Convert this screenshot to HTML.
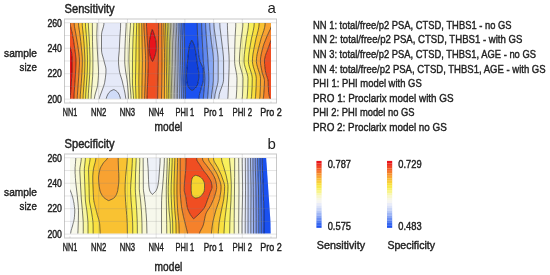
<!DOCTYPE html>
<html><head><meta charset="utf-8"><title>Sensitivity and Specificity</title><style>html,body{margin:0;padding:0;background:#fff;width:550px;height:275px;overflow:hidden}svg{display:block}</style></head><body>
<svg width="550" height="275" viewBox="0 0 550 275">
<rect width="550" height="275" fill="#fff"/>
<clipPath id="ct"><path d="M70 22.9H271V98.8H70Z"/></clipPath>
<g clip-path="url(#ct)">
<path fill="#1242dc" fill-rule="evenodd" d="M191.75 40.01 L192.21 40.5 L192.25 40.77 L192.44 41 L193.61 43.5 L194.25 45.18 L194.75 47.02 L195.5 51.03 L196.75 59.49 L197.6 66 L198.5 70.75 L198.75 72.56 L198.84 75 L198.75 78 L198 83 L197.73 84 L197 85.7 L196.22 87 L195.28 88.25 L194.25 89.13 L192.25 90.47 L191.75 90.45 L189.93 89 L189 88 L188 86.18 L187.5 85.01 L187 83 L186.92 81.25 L186.75 80.5 L186.5 75 L186.75 70.08 L186.92 69.25 L187 67.36 L187.16 66.5 L187.25 64.44 L187.4 63.5 L187.75 58.5 L188.5 51.24 L189 47.61 L189.48 45.25 L190.07 43.5 L191.06 41.25 L191.25 41.01 L191.29 40.75 L191.5 40.51 L191.52 40.25Z"/>
<path fill="#1c52f0" fill-rule="evenodd" d="M184 18 L197.18 18 L197.33 28 L197.6 36.75 L198.25 48.6 L198.75 54.52 L199.25 57.79 L200.14 61.5 L200.81 63.25 L202.25 66.24 L202.75 67.48 L202.86 68 L203 68.23 L203.25 69.5 L203.33 78.75 L203.25 80.79 L202.75 83.05 L201.36 87.5 L200.75 90 L199.84 93 L199.33 95.25 L199.07 98.25 L199 104 L185.41 104 L185.39 94.75 L185.01 82.75 L184.68 66.5 L184.47 36.75 L184.39 34.5 L184.25 33.26 L184.01 24 L184 18Z M191.52 40.25 L191.5 40.51 L191.29 40.75 L191.25 41.01 L191.06 41.25 L190.07 43.5 L189.48 45.25 L189 47.61 L188.5 51.24 L187.75 58.5 L187.4 63.5 L187.25 64.44 L187.16 66.5 L187 67.36 L186.92 69.25 L186.75 70.08 L186.5 75 L186.75 80.5 L186.92 81.25 L187 83 L187.5 85.01 L188 86.18 L189 88 L189.93 89 L191.75 90.45 L192.25 90.47 L194.25 89.13 L195.28 88.25 L196.22 87 L197 85.7 L197.73 84 L198 83 L198.75 78 L198.84 75 L198.75 72.56 L198.5 70.75 L197.6 66 L196.75 59.49 L195.5 51.03 L194.75 47.02 L194.25 45.18 L193.61 43.5 L192.44 41 L192.25 40.77 L192.21 40.5 L191.75 40.01Z"/>
<path fill="#4070f0" fill-rule="evenodd" d="M181.75 18 L184 18 L184.01 24 L184.25 33.26 L184.39 34.5 L184.47 36.75 L184.68 66.5 L185.01 82.75 L185.39 94.75 L185.41 104 L183.4 104 L183.36 93.25 L182.59 65.75 L182.3 41.75 L181.75 27.08 L181.71 18Z M197.25 18 L201.59 18 L201.68 28 L203 55.59 L203.5 63.56 L203.93 67 L204 68.27 L204.17 69 L204.25 70.52 L204.41 71.25 L204.5 73.03 L204.65 74 L204.85 78.5 L204.65 84 L203.58 95 L202.91 104 L199 104 L199.07 98.25 L199.33 95.25 L199.84 93 L200.75 90 L201.36 87.5 L202.75 83.05 L203.25 80.79 L203.33 78.75 L203.25 69.5 L203 68.23 L202.86 68 L202.75 67.48 L202.25 66.24 L200.81 63.25 L200.14 61.5 L199.25 57.79 L198.75 54.52 L198.25 48.6 L197.6 36.75 L197.33 28 L197.18 18Z"/>
<path fill="#6088f0" fill-rule="evenodd" d="M180 18 L181.71 18 L181.75 27.08 L182.3 41.75 L182.59 65.75 L183.36 93.25 L183.4 104 L181.4 104 L181.36 93 L180.68 65.5 L180.38 41 L179.83 26.25 L179.8 18Z M201.75 18 L205.6 18 L205.61 24.75 L205.76 29 L207.88 58.75 L208.61 71.5 L208.79 77 L208.79 80.5 L208.62 84.75 L207.19 104 L202.91 104 L203.58 95 L204.65 84 L204.85 78.5 L204.65 74 L204.5 73.03 L204.41 71.25 L204.25 70.52 L204.17 69 L204 68.27 L203.93 67 L203.5 63.56 L203 55.59 L201.68 28 L201.59 18Z"/>
<path fill="#88a8f4" fill-rule="evenodd" d="M178 18 L179.8 18 L179.83 26.25 L180.38 41 L180.68 65.5 L181.36 93 L181.4 104 L179.41 104 L179.38 93.25 L178.88 66.25 L178.6 42 L178.04 26.75 L178 18Z M205.75 18 L209.7 18 L209.72 24.75 L210 29.35 L211.45 42.25 L213 53.5 L213.4 58 L213.5 64.25 L213.35 80.75 L212.95 85 L211.62 94.75 L210.89 104 L207.19 104 L208.62 84.75 L208.79 80.5 L208.79 77 L208.61 71.5 L207.88 58.75 L205.76 29 L205.61 24.75 L205.6 18Z"/>
<path fill="#b4c6f7" fill-rule="evenodd" d="M176.5 18 L178 18 L178.04 26.75 L178.6 42 L178.88 66.25 L179.38 93.25 L179.41 104 L177.62 104 L177.59 93.5 L177.25 72.75 L176.91 42.25 L176.35 26.75 L176.31 18Z M209.75 18 L213.92 18 L213.94 24.75 L214.25 28.97 L217.58 52.5 L218.13 58.25 L218.21 61 L218.14 80.5 L217.61 84 L215.75 91.08 L215 94.5 L214.5 99.17 L214.21 104 L210.89 104 L211.62 94.75 L212.92 85.25 L213.33 81 L213.5 60.5 L213.33 57 L213 53.5 L211.45 42.25 L209.99 29.25 L209.72 24.75 L209.7 18Z"/>
<path fill="#d0dcf8" fill-rule="evenodd" d="M175 18 L176.31 18 L176.35 26.75 L176.91 42.25 L177.25 72.75 L177.59 93.5 L177.62 104 L176.2 104 L176.17 93.5 L175.67 66.25 L175.4 42 L174.85 27 L174.8 18Z M214 18 L219.81 18 L219.82 24.25 L220 27.77 L222.94 51.5 L223.52 58 L223.6 60.75 L223.6 79 L223.51 80.5 L223.16 82.5 L222.61 84.5 L220.25 90.97 L219.75 92.5 L219.25 94.47 L218.75 98.42 L218.5 101.45 L218.44 104 L214.21 104 L214.5 99.17 L215 94.5 L215.75 91.08 L217.44 84.75 L217.89 82.5 L218.12 80.75 L218.2 79 L218.2 60.75 L218.09 57.5 L217.65 53 L214.25 28.97 L213.94 24.75 L213.92 18Z M113.5 89.71 L113.75 89.63 L114.5 89.88 L116.98 91.5 L117.5 92 L118.25 92.99 L119 94.35 L119.5 95.5 L120.25 97.75 L120.5 100.38 L120.55 104 L105.84 104 L106 100.5 L106.25 98.43 L106.75 96.72 L107.75 94.49 L108.75 92.88 L110 91.5 L111 90.82 L113.28 89.75Z"/>
<path fill="#e5e9f8" fill-rule="evenodd" d="M104.25 18 L120.76 18 L120.5 28.59 L119.84 38 L119.25 50.75 L118.56 58 L118.5 61.25 L118.57 64 L119.09 68.75 L119.6 72 L120.32 74.75 L122.25 80.99 L123.06 84.75 L123.25 85.24 L123.34 86 L123.5 86.36 L123.57 87 L123.75 87.45 L123.86 88.25 L124 88.49 L124.07 89.25 L124.25 89.64 L125 93.27 L125.75 98.24 L126.16 104 L120.55 104 L120.5 100.38 L120.25 97.75 L119.5 95.5 L119 94.35 L118.26 93 L117.25 91.74 L116.5 91.13 L115.25 90.32 L114.22 89.75 L113.75 89.63 L113 89.82 L110.3 91.25 L109.04 92.5 L108.02 94 L106.75 96.72 L106.25 98.43 L106 100.5 L105.84 104 L98.81 104 L99 101 L99.5 97.7 L100.01 96 L103.63 86.25 L104.39 83.75 L104.67 82.5 L105.41 77.75 L105.93 73 L105.98 69.25 L105.67 67 L104.25 62.01 L103.68 59.5 L102 53.77 L101.91 53 L101.75 52.54 L101.5 50 L101.51 34.75 L101.75 32.69 L102 31.5 L103.42 26.75 L103.86 24.5 L104.14 18Z M173.5 18 L174.8 18 L174.85 27 L175.4 42 L175.67 66.25 L176.17 93.5 L176.2 104 L174.7 104 L174.68 93.5 L174.17 66.25 L173.9 42 L173.35 27 L173.3 18Z M220 18 L227.41 18 L227.42 25.25 L227.56 30.5 L228.12 42.25 L229.03 55.25 L229.2 61 L229.08 68.5 L228.4 87.75 L227.97 96.5 L227.39 104 L218.44 104 L218.5 101.45 L218.75 98.42 L219.25 94.47 L220 91.72 L222.1 86 L222.83 83.75 L223.41 81.25 L223.59 79.25 L223.6 60.75 L223.46 57 L222.91 51.25 L220 27.77 L219.82 24.25 L219.81 18Z"/>
<path fill="#f5f5f2" fill-rule="evenodd" d="M97.25 18 L104.14 18 L103.86 24.5 L103.42 26.75 L102 31.5 L101.75 32.69 L101.51 34.75 L101.5 50 L101.75 52.54 L101.91 53 L102 53.77 L102.75 56.52 L103.4 58.5 L104.25 62.01 L105.42 66 L105.9 68.25 L106 69.75 L105.93 73 L105.67 75.75 L104.67 82.5 L104.18 84.5 L103.63 86.25 L100.01 96 L99.5 97.7 L99 101 L98.81 104 L93.83 104 L94.25 99.5 L94.75 96.15 L95.25 94 L97.1 87.75 L97.64 85.25 L98.12 80.5 L98.44 75.5 L98.5 71.75 L98.41 68 L97.34 50 L96.83 37.5 L96.83 33.25 L97.2 24.75 L97.17 18Z M121 18 L126.28 18 L126.08 26.5 L125.36 38.25 L124.89 50.25 L124.69 61.75 L124.87 64.75 L125.59 71 L127 79.68 L127.5 83.97 L128.25 92.93 L128.8 104 L126.16 104 L125.75 98.24 L125 93.27 L124.25 89.64 L124.07 89.25 L124 88.49 L123.86 88.25 L123.75 87.45 L123.57 87 L123.5 86.36 L123.34 86 L123.25 85.24 L123.06 84.75 L122.25 80.99 L120.32 74.75 L119.6 72 L119.09 68.75 L118.61 64.5 L118.5 61.5 L118.56 58 L119.25 50.75 L119.84 38 L120.5 28.59 L120.76 18Z M172 18 L173.3 18 L173.35 27 L173.9 42 L174.17 66.25 L174.68 93.5 L174.7 104 L173.2 104 L173.18 93.5 L172.67 66.25 L172.4 42 L171.85 27 L171.8 18Z M227.5 18 L235.79 18 L235.75 26.28 L235.09 37.5 L234.88 44 L234.65 54.25 L234.6 61.5 L234.72 63.5 L235.08 66.25 L236.25 72.31 L236.75 75.42 L236.98 78.25 L236.99 80.75 L236.75 89.67 L236.3 97 L235.75 100.15 L234.79 104 L227.39 104 L227.97 96.5 L228.4 87.75 L229.08 68.5 L229.2 61 L229.03 55.25 L228.12 42.25 L227.56 30.5 L227.42 25.25 L227.41 18Z"/>
<path fill="#f8f8d2" fill-rule="evenodd" d="M92.5 18 L97.17 18 L97.2 24.75 L96.83 33.25 L96.84 38 L97.33 49.75 L98.36 67 L98.49 70.5 L98.38 76.75 L97.68 85 L97.1 87.75 L95.25 94 L94.75 96.15 L94.25 99.5 L93.83 104 L90.9 104 L91.25 94.09 L92.65 76.25 L92.86 70.25 L92.92 59 L92.5 41.5 L92.31 18Z M126.5 18 L130.58 18 L130.41 25.75 L129.61 37.5 L129.35 43.5 L128.97 54.75 L128.89 61.5 L129.82 82.25 L130.91 95.5 L131.3 104 L128.8 104 L128.25 92.93 L127.5 83.97 L127 79.68 L125.62 71.25 L124.8 63.75 L124.69 60 L124.87 51 L125.36 38.25 L126.08 26.5 L126.28 18Z M170.5 18 L171.8 18 L171.85 27 L172.4 42 L172.67 66.25 L173.18 93.5 L173.2 104 L171.7 104 L171.68 93.5 L171.17 66.25 L170.9 42 L170.35 27 L170.3 18Z M236 18 L242.89 18 L242.88 24 L242.75 26.8 L242.25 31 L241.09 39 L239.84 51.75 L239.42 59 L239.42 61.75 L239.71 64.25 L240.33 67 L242 72.75 L242.49 74.75 L242.77 76.25 L242.99 78.5 L242.87 87 L242.48 96.25 L242 99.5 L240.89 104 L234.79 104 L235.75 100.15 L236.3 97 L236.75 89.67 L236.99 80.75 L236.98 78.25 L236.75 75.42 L236.25 72.31 L235.08 66.25 L234.72 63.5 L234.6 61.5 L234.65 54.25 L234.88 44 L235.09 37.5 L235.75 26.28 L235.79 18Z"/>
<path fill="#f8f7a0" fill-rule="evenodd" d="M88.25 18 L92.31 18 L92.5 41.5 L92.92 59 L92.86 70.25 L92.65 76.25 L91.25 94.09 L90.9 104 L88 104 L88.36 93.75 L89.71 74.25 L90 61.75 L89.93 55.75 L89.59 46.5 L89.11 36.75 L88.41 26 L88.22 18Z M130.75 18 L133.88 18 L133.75 25.33 L133.06 38.25 L132.64 52 L132.51 60.25 L132.41 78.75 L132.5 85.18 L133.42 95.75 L133.8 104 L131.3 104 L130.91 95.5 L129.82 82.25 L128.93 63 L128.92 57.5 L129.14 49 L129.59 38 L130.44 25.25 L130.58 18Z M169 18 L170.3 18 L170.35 27 L170.9 42 L171.17 66.25 L171.68 93.5 L171.7 104 L170.2 104 L170.18 93.5 L169.66 65.5 L169.4 42 L168.84 27 L168.8 18Z M243 18 L248.5 18 L248.49 24.25 L248.28 27.25 L247.82 30.5 L246.4 38.5 L244.91 49.5 L244.33 54.5 L244.03 59 L244.03 62 L244.39 64.5 L245.11 67.25 L247.25 74.02 L247.75 76.26 L247.99 78.5 L247.78 88 L247.26 96.5 L246.75 99.65 L245.7 104 L240.89 104 L242 99.5 L242.48 96.25 L242.87 87 L242.99 78.5 L242.77 76.25 L242.49 74.75 L242 72.75 L240.4 67.25 L239.85 65 L239.55 63.25 L239.41 61.5 L239.56 55.75 L240.12 48.75 L241.15 38.5 L242.25 31 L242.75 26.75 L242.88 24 L242.89 18Z"/>
<path fill="#f8f05c" fill-rule="evenodd" d="M85.5 18 L88.22 18 L88.39 25.5 L89.38 41.75 L89.91 55.25 L89.99 62.75 L89.79 72.5 L88.35 94 L88 104 L85.4 104 L85.75 94.07 L87.23 73.75 L87.5 60.75 L87.39 54.75 L87 45 L86.25 34.35 L85.53 26.25 L85.3 18Z M134 18 L136.77 18 L136.64 25.75 L136.1 44 L135.51 79.25 L135.55 85.5 L136.21 104 L133.8 104 L133.44 96 L132.74 88.25 L132.43 83.5 L132.45 67.5 L132.61 53.25 L133.05 38.5 L133.75 25.33 L133.88 18Z M167.25 18 L168.8 18 L168.84 27 L169.4 42 L169.66 65.5 L170.18 93.5 L170.2 104 L168.69 104 L168.67 93.75 L168.07 66 L167.79 41.75 L167.24 26.75 L167.2 18Z M248.75 18 L254.19 18 L254.19 24 L253.97 26.75 L253.25 30.74 L251.41 38.75 L249.64 49 L248.85 54.25 L248.44 59 L248.41 61.75 L248.78 64.5 L249.41 67 L251 72.04 L251.75 74.75 L252.13 76.75 L252.29 78.5 L252.12 87 L251.55 96.5 L251.03 99.75 L250 104 L245.7 104 L246.75 99.65 L247.26 96.5 L247.78 88 L247.99 78.5 L247.75 76.26 L247.25 74.02 L245.11 67.25 L244.56 65.25 L244.13 63 L244 61.25 L244.17 56.5 L244.81 50.25 L246.4 38.5 L247.86 30.25 L248.3 27 L248.49 24.25 L248.5 18Z"/>
<path fill="#f9e040" fill-rule="evenodd" d="M82.25 18 L85.3 18 L85.46 25.25 L86.75 41.04 L87.25 50.75 L87.5 60.75 L87.28 72.5 L87.01 77.25 L85.74 94.25 L85.4 104 L82.89 104 L83.18 95.25 L84.61 74.25 L84.85 66 L84.9 60 L84.7 54 L84.06 43.5 L83.25 34.47 L82.3 25.75 L82.1 18Z M137 18 L139 18 L139.1 61.75 L138.8 82 L138.99 95.25 L139 104 L136.21 104 L135.55 85.25 L135.54 76.25 L135.94 52.5 L136.77 18Z M165.5 18 L167.2 18 L167.24 26.75 L167.79 41.75 L168.07 66 L168.67 93.75 L168.69 104 L167 104 L166.98 94.75 L166.38 66.25 L166.09 41.75 L165.55 27 L165.5 18Z M254.25 18 L259.11 18 L259.11 23.5 L258.95 26 L258.6 28.25 L257.91 31.25 L256 38.5 L253.5 50.92 L252.84 55 L252.48 58.5 L252.42 61.75 L252.74 64.25 L253.41 67 L255.63 74.25 L256.1 76.5 L256.29 78.5 L256.14 86.75 L255.59 96.25 L255.14 99.25 L254 104 L250 104 L251.03 99.75 L251.55 96.5 L252.12 87 L252.29 78.5 L252.13 76.75 L251.75 74.75 L251 72.04 L249.41 67 L248.89 65 L248.53 63 L248.39 61 L248.63 56.25 L249.39 50.5 L251.41 38.75 L253.25 30.74 L254 26.55 L254.19 24 L254.19 18Z"/>
<path fill="#f9c232" fill-rule="evenodd" d="M78.5 18 L82.1 18 L82.32 26 L83.25 34.47 L84 42.75 L84.7 54 L84.9 61.25 L84.67 72.75 L84.25 80.25 L83.18 95.25 L82.89 104 L80 104 L80.32 94.75 L81.25 83.3 L81.97 72.5 L82.32 65 L82.38 60 L82.26 57 L82.01 54 L80.75 41.55 L80 35 L78.63 25.75 L78.51 23.75 L78.4 18Z M139.25 18 L141.61 18 L142.4 60.5 L141.85 91.25 L141.8 104 L139 104 L138.99 95.25 L138.8 82 L139.1 61.75 L139 18Z M164 18 L165.5 18 L165.55 27 L166.09 41.75 L166.38 66.25 L166.98 94.75 L167 104 L164.39 104 L164.57 58.25 L164.5 52.49 L163.83 27.5 L163.79 18Z M259.25 18 L265.13 18 L265.11 23.5 L264.91 26 L264.38 28.5 L263.63 31 L261.16 38.25 L257.87 50.75 L256.97 55 L256.51 58.5 L256.41 61.5 L256.7 64 L257.38 66.75 L259.75 74.11 L260.25 76.31 L260.49 78.5 L260.39 86.75 L259.98 96.25 L259.5 99.5 L258.39 104 L254 104 L255.14 99.25 L255.59 96.25 L256.14 86.75 L256.29 78.5 L256.1 76.5 L255.63 74.25 L253.48 67.25 L252.84 64.75 L252.5 62.75 L252.4 60.75 L252.68 56.25 L253.5 50.92 L256 38.5 L258.16 30.25 L258.86 26.75 L259.11 24 L259.11 18Z"/>
<path fill="#f8a232" fill-rule="evenodd" d="M74.25 18 L78.4 18 L78.51 23.75 L78.63 25.75 L79.76 33.25 L80.25 37.14 L81 43.92 L82.25 56.91 L82.39 61 L82.25 66.82 L81.75 76.34 L80.3 95 L80 104 L77 104 L77.39 95.25 L78.75 76.1 L79.25 67.75 L79.47 63 L79.48 60 L79.26 56.5 L79.01 54.25 L77.75 45.25 L75.88 34.25 L74.48 26.75 L74.22 24 L74.1 18Z M141.75 18 L143.72 18 L144 28.5 L144.61 38.25 L145.5 55.55 L145.59 61 L145.5 70.02 L145.16 82.75 L144.63 95.5 L144.5 104 L141.8 104 L141.85 91.25 L142.4 60.5 L141.61 18Z M161.75 18 L163.79 18 L163.83 27.5 L164.5 52.49 L164.57 58.25 L164.39 104 L161.39 104 L161.75 85 L162 62.75 L161.68 18Z M265.25 18 L275.01 18 L272.5 23.5 L270.16 29.5 L269.85 30 L267.01 36.25 L264 43.75 L263.25 46.09 L262 50.9 L261.25 54.05 L260.75 56.75 L260.48 59 L260.4 61 L260.5 63.25 L260.78 65.5 L262.24 73 L264 78.07 L264.35 79.5 L264.49 80.75 L264.31 87.25 L263.63 96 L263.15 99.25 L262.43 102.5 L262 104 L258.39 104 L259.5 99.5 L259.98 96.25 L260.39 86.75 L260.49 78.5 L260.25 76.31 L259.75 74.11 L257.61 67.5 L256.86 64.75 L256.46 62.25 L256.42 60 L256.58 57.75 L256.92 55.25 L258.12 49.75 L261.16 38.25 L263.8 30.5 L264.68 27.25 L265.09 24.25 L265.13 18Z"/>
<path fill="#f5812b" fill-rule="evenodd" d="M69.5 18 L74.1 18 L74.22 24 L74.48 26.75 L75.88 34.25 L77.56 44 L78.75 52.3 L79.26 56.5 L79.5 60.5 L79.38 65.25 L78.75 76.1 L77.39 95.25 L77 104 L73.79 104 L74.14 94 L75.45 74.75 L75.75 68.94 L75.98 62.75 L75.94 59 L75.5 54.23 L73.5 39.98 L73.25 38.48 L73.03 37.75 L73 37 L72.79 36.5 L72.75 35.74 L72.55 35.25 L72.5 34.5 L72.33 34.25 L72.25 33.46 L72.06 33 L72 32.25 L71.83 32 L71.75 31.22 L71.55 30.75 L71.5 30 L71.33 29.75 L71.25 28.97 L71.06 28.5 L70.75 26.74 L70.61 26.5 L70.5 25.64 L70.34 25.25 L70.25 24.36 L70.1 24 L70 22.94 L69.81 22.25 L69.75 21.25 L69.59 20.75 L69.5 18.99 L69.33 18Z M143.75 18 L146.4 18 L146.5 26.52 L146.66 28 L146.75 31.07 L148 53.05 L148.23 61.75 L148.18 67.75 L148 71.22 L147.91 76 L147.75 77.95 L147.66 82.75 L147.5 84.68 L147.43 88 L147.25 90.08 L147.16 94.25 L147 97 L146.97 104 L144.5 104 L144.63 95.5 L145.16 82.75 L145.5 70.02 L145.58 59.75 L145.5 55.55 L145.25 50 L143.96 27.75 L143.72 18Z M158.75 18 L161.68 18 L162 62.75 L161.75 85 L161.39 104 L157.55 104 L158.25 65.09 L158.61 29.5 L158.62 18Z M275 18.03 L282 18 L282 29.89 L276 30 L273.75 34.31 L272.19 37.75 L272 38 L270.92 40.75 L270.75 40.99 L270.42 42 L270.25 42.24 L268.94 46 L268.75 46.32 L268.68 46.75 L268.5 47 L268.43 47.5 L268.25 47.74 L268.16 48.25 L268 48.48 L267.69 49.5 L267.5 49.74 L267.2 50.75 L267 51 L266.91 51.5 L266.5 52.36 L266.43 52.75 L266.25 52.99 L266.14 53.5 L265.5 55.17 L265.46 55.5 L265.25 55.97 L265.19 56.5 L265 56.77 L264.94 57.5 L264.75 57.95 L264.67 59 L264.5 59.5 L264.5 63.76 L264.68 64.5 L264.75 66.5 L264.93 67 L265 68.51 L265.19 69 L265.25 70.26 L265.44 70.75 L265.5 72 L265.66 72.25 L265.75 73.1 L265.95 73.5 L266 74.02 L266.17 74.25 L266.5 75.51 L266.69 75.75 L266.75 76.25 L266.95 76.5 L267 76.9 L267.21 77.25 L267.25 77.59 L267.46 78 L267.5 78.5 L267.7 78.75 L267.75 79.32 L267.94 79.75 L268 81 L268.15 81.5 L268.2 82.25 L268.25 86.29 L268.41 88 L268.5 92 L268.68 92.75 L268.75 93.98 L268.89 94.25 L269 95.25 L269.14 95.5 L269.25 96.26 L269.39 96.5 L269.75 98.01 L269.9 98.25 L270.5 100.2 L272 104 L262 104 L262.43 102.5 L263.15 99.25 L263.63 96 L264.31 87.25 L264.49 80.75 L264.39 79.75 L264.12 78.5 L262.25 73.03 L261.5 69.49 L260.61 64.25 L260.43 62.25 L260.41 60.25 L260.68 57.25 L261.25 54.05 L263 47 L264 43.76 L267.01 36.25 L269.85 30 L270.16 29.5 L272.5 23.5 L274.92 18.25Z"/>
<path fill="#f04e22" fill-rule="evenodd" d="M60.25 18 L69.33 18 L69.5 18.99 L69.59 20.75 L69.75 21.25 L69.81 22.25 L70 22.94 L70.1 24 L70.25 24.36 L70.34 25.25 L70.5 25.64 L70.61 26.5 L70.75 26.74 L71.06 28.5 L71.25 28.97 L71.33 29.75 L71.5 30 L71.55 30.75 L71.75 31.22 L71.83 32 L72 32.25 L72.06 33 L72.25 33.46 L72.33 34.25 L72.5 34.5 L72.55 35.25 L72.75 35.74 L72.79 36.5 L73 37 L73.03 37.75 L73.25 38.48 L73.5 39.98 L75.5 54.25 L75.86 57.75 L76 60.75 L75.91 65.25 L75.55 73 L74.14 94 L73.79 104 L69 104 L69.07 103.25 L69.25 102.76 L69.32 102 L69.5 101.5 L69.6 100.5 L69.75 100.08 L69.81 99.25 L70 98.64 L70.08 97.5 L70.25 97 L70.34 95.5 L70.5 95 L70.58 93 L70.75 92.25 L70.82 89.75 L71 88.75 L71.05 86.25 L71.25 84.76 L71.32 82 L71.5 81.01 L71.58 78.25 L71.75 77.25 L71.82 73.75 L72 72 L72.09 60.75 L72 56.44 L71.85 55.75 L71.75 53.62 L71.57 53 L71.5 52 L71.36 51.75 L71 49.97 L70.25 47.72 L70.1 47.5 L70 47 L69.25 45.73 L68.51 44.75 L64.58 40.5 L62 38 L60 37.9 L60 18Z M146.5 18 L158.62 18 L158.61 29.5 L158.25 65.09 L157.55 104 L146.97 104 L147 97 L147.16 94.25 L147.25 90.08 L147.43 88 L147.5 84.68 L147.66 82.75 L147.75 77.95 L147.93 75.5 L148 71.22 L148.18 68 L148.23 61.75 L148 53 L146.75 31.07 L146.66 28 L146.5 26.52 L146.4 18Z M152.04 29.75 L152 30.27 L151.83 30.5 L151.75 31.01 L151.6 31.25 L150.83 34 L149.75 39.22 L149.5 41 L149.4 43 L149.25 44.15 L149.2 48.75 L149.25 50.57 L149.41 51.25 L149.5 52.57 L149.67 53.25 L149.75 54.27 L150.25 56.29 L151.09 58.75 L152.11 61 L152.5 61.5 L152.74 61.25 L153.92 58.75 L155.25 55 L156.25 50.03 L156.32 47 L156.25 44 L156 41.18 L155.75 39.75 L153.85 33.25 L152.94 30.75 L152.75 30.51 L152.64 30 L152.25 29.51Z M276.25 29.99 L282 29.89 L282 104 L272 104 L270.5 100.2 L269.9 98.25 L269.75 98.01 L269.39 96.5 L269.25 96.26 L269.14 95.5 L269 95.25 L268.89 94.25 L268.75 94 L268.68 92.75 L268.5 92 L268.41 88 L268.25 86.29 L268.2 82.25 L268.15 81.5 L268 81 L267.94 79.75 L267.75 79.32 L267.7 78.75 L267.5 78.5 L267.46 78 L267.25 77.59 L267.21 77.25 L267 76.9 L266.95 76.5 L266.75 76.25 L266.69 75.75 L266.5 75.51 L266.17 74.25 L266 74.02 L265.95 73.5 L265.75 73.1 L265.66 72.25 L265.5 72 L265.44 70.75 L265.25 70.26 L265.19 69 L265 68.51 L264.93 67 L264.75 66.5 L264.68 64.5 L264.5 63.76 L264.5 59.46 L264.67 59 L264.75 57.95 L264.94 57.5 L265 56.77 L265.19 56.5 L265.25 55.97 L265.39 55.75 L265.75 54.43 L266.75 51.72 L266.91 51.5 L267 51 L267.2 50.75 L267.5 49.74 L267.69 49.5 L268 48.48 L268.16 48.25 L268.25 47.74 L268.43 47.5 L268.5 47 L268.68 46.75 L268.75 46.32 L268.94 46 L269.5 44.23 L269.66 44 L269.75 43.53 L269.94 43.25 L270.25 42.24 L270.42 42 L271.25 39.75 L271.44 39.5 L272 38 L272.19 37.75 L273.5 34.82 L276 30Z"/>
<path fill="#e8141c" fill-rule="evenodd" d="M152.25 29.51 L152.64 30 L152.75 30.51 L152.94 30.75 L153.85 33.25 L155.75 39.75 L156 41.18 L156.25 44 L156.32 47 L156.25 50.03 L155.25 55 L153.92 58.75 L152.74 61.25 L152.5 61.5 L152.11 61 L151.09 58.75 L150.25 56.29 L149.75 54.27 L149.67 53.25 L149.5 52.57 L149.41 51.25 L149.25 50.57 L149.2 48.75 L149.25 44.15 L149.4 43 L149.5 41 L149.75 39.22 L150.83 34 L151.6 31.25 L151.75 31.01 L151.83 30.5 L152 30.27 L152.04 29.75Z M60.25 37.91 L62 38 L62.25 38.22 L64.75 40.67 L68.5 44.74 L69.75 46.5 L70.75 49.17 L70.87 49.75 L71 49.97 L71.06 50.5 L71.25 50.93 L71.36 51.75 L71.5 52 L71.57 53 L71.75 53.62 L71.85 55.75 L72 56.44 L72.09 61.5 L72 72 L71.82 73.75 L71.75 77.26 L71.56 78.5 L71.5 81.01 L71.31 82.25 L71.25 84.76 L71.06 86 L71 88.75 L70.81 90 L70.75 92.25 L70.58 93 L70.5 95 L70.34 95.5 L70.25 97.01 L70.08 97.5 L70 98.64 L69.81 99.25 L69.75 100.08 L69.6 100.5 L69.5 101.5 L69.32 102 L69.25 102.76 L69.07 103.25 L69 104 L60 104 L60 37.9Z"/>
<g fill="none" stroke="#000" stroke-opacity="0.55" stroke-width="0.95">
<path d="M191.75 40.01 L191.52 40.25 L191.5 40.51 L191.29 40.75 L191.25 41.01 L190.59 42.25 L189.63 44.75 L189.25 46.25 L188.75 49.23 L187.75 58.5 L187.4 63.5 L187.25 64.44 L187.16 66.5 L187 67.36 L186.92 69.25 L186.75 70.08 L186.68 72.5 L186.51 74.75 L186.75 80.5 L186.92 81.25 L187 83 L187.17 83.5 L187.25 84.25 L188.25 86.68 L189 88 L189.66 88.75 L191.75 90.45 L192.25 90.47 L194.25 89.13 L195.5 88 L196.97 85.75 L197.75 83.94 L198.25 81.59 L198.75 78 L198.84 75 L198.75 72.56 L198.5 70.75 L197.6 66 L196.5 57.72 L195.25 49.5 L194.5 46 L194.01 44.5 L192.93 42 L192.25 40.77 L192.21 40.5 L191.99 40.25Z"/>
<path d="M184 18 L184.01 24 L184.25 33.26 L184.39 34.5 L184.47 36.75 L184.68 66.5 L185.01 82.75 L185.39 94.75 L185.41 104 M199 104 L199.07 98.25 L199.33 95.25 L199.84 93 L200.75 90 L201.36 87.5 L202.75 83.05 L203.25 80.79 L203.33 78.75 L203.25 69.5 L203 68.23 L202.86 68 L202.75 67.48 L202.25 66.24 L200.81 63.25 L200.14 61.5 L199.25 57.79 L198.75 54.52 L198.25 48.6 L197.6 36.75 L197.33 28 L197.18 18"/>
<path d="M181.71 18 L181.75 27.08 L182.3 41.75 L182.59 65.75 L183.36 93.25 L183.4 104 M202.91 104 L203.58 95 L204.65 84 L204.85 78.5 L204.65 74 L204.5 73.03 L204.41 71.25 L204.25 70.52 L204.17 69 L204 68.27 L203.93 67 L203.5 63.56 L203 55.59 L201.68 28 L201.59 18"/>
<path d="M179.8 18 L179.83 26.25 L180.38 41 L180.68 65.5 L181.36 93 L181.4 104 M207.19 104 L208.62 84.75 L208.79 80.5 L208.79 77 L208.61 71.5 L207.88 58.75 L205.76 29 L205.61 24.75 L205.6 18"/>
<path d="M178 18 L178.04 26.75 L178.6 42 L178.88 66.25 L179.38 93.25 L179.41 104 M210.89 104 L211.62 94.75 L212.92 85.25 L213.33 81 L213.5 60.5 L213.33 57 L213 53.5 L211.45 42.25 L209.99 29.25 L209.72 24.75 L209.7 18"/>
<path d="M176.31 18 L176.35 26.75 L176.91 42.25 L177.25 72.75 L177.59 93.5 L177.62 104 M214.21 104 L214.5 99.17 L215 94.5 L215.75 91.08 L217.44 84.75 L217.89 82.5 L218.12 80.75 L218.2 79 L218.2 60.75 L218.09 57.5 L217.65 53 L214.25 28.97 L213.94 24.75 L213.92 18"/>
<path d="M174.8 18 L174.85 27 L175.4 42 L175.67 66.25 L176.17 93.5 L176.2 104 M120.55 104 L120.5 100.38 L120.25 97.75 L119.5 95.5 L119 94.35 L118.26 93 L117.25 91.74 L116.5 91.13 L115.25 90.32 L114.22 89.75 L113.75 89.63 L113 89.82 L110.3 91.25 L109.04 92.5 L108.02 94 L106.75 96.72 L106.25 98.43 L106 100.5 L105.84 104 M218.44 104 L218.5 101.45 L218.75 98.42 L219.25 94.47 L220 91.72 L222.1 86 L222.83 83.75 L223.41 81.25 L223.59 79.25 L223.6 60.75 L223.46 57 L222.91 51.25 L220 27.77 L219.82 24.25 L219.81 18"/>
<path d="M104.14 18 L103.86 24.5 L103.42 26.75 L102 31.5 L101.75 32.69 L101.51 34.75 L101.5 50 L101.75 52.54 L101.91 53 L102 53.77 L103.68 59.5 L104.25 62.01 L105.67 67 L105.98 69.25 L105.93 73 L105.41 77.75 L104.67 82.5 L104.39 83.75 L103.63 86.25 L100.01 96 L99.5 97.7 L99 101 L98.81 104 M173.3 18 L173.35 27 L173.9 42 L174.17 66.25 L174.68 93.5 L174.7 104 M126.16 104 L125.75 98.24 L125 93.27 L124.25 89.64 L124.07 89.25 L124 88.49 L123.86 88.25 L123.75 87.45 L123.57 87 L123.5 86.36 L123.34 86 L123.25 85.24 L123.06 84.75 L122.25 80.99 L120.32 74.75 L119.6 72 L119.09 68.75 L118.57 64 L118.5 61.25 L118.56 58 L119.25 50.75 L119.84 38 L120.5 28.59 L120.76 18 M227.39 104 L227.97 96.5 L228.4 87.75 L229.08 68.5 L229.2 61 L229.03 55.25 L228.12 42.25 L227.56 30.5 L227.42 25.25 L227.41 18"/>
<path d="M97.17 18 L97.2 24.75 L96.83 33.25 L96.83 37.5 L97.34 50 L98.41 68 L98.5 71.75 L98.44 75.5 L98.12 80.5 L97.64 85.25 L97.1 87.75 L95.25 94 L94.75 96.15 L94.25 99.5 L93.83 104 M171.8 18 L171.85 27 L172.4 42 L172.67 66.25 L173.18 93.5 L173.2 104 M128.8 104 L128.25 92.93 L127.5 83.97 L127 79.68 L125.59 71 L124.87 64.75 L124.69 61.75 L124.89 50.25 L125.36 38.25 L126.08 26.5 L126.28 18 M234.79 104 L235.75 100.15 L236.3 97 L236.75 89.67 L236.99 80.75 L236.98 78.25 L236.75 75.42 L236.25 72.31 L235.08 66.25 L234.72 63.5 L234.6 61.5 L234.65 54.25 L234.88 44 L235.09 37.5 L235.75 26.28 L235.79 18"/>
<path d="M92.31 18 L92.5 41.5 L92.92 59 L92.86 70.25 L92.65 76.25 L91.25 94.09 L90.9 104 M170.3 18 L170.35 27 L170.9 42 L171.17 66.25 L171.68 93.5 L171.7 104 M131.3 104 L130.91 95.5 L129.82 82.25 L128.89 61.5 L128.97 54.75 L129.35 43.5 L129.61 37.5 L130.41 25.75 L130.58 18 M240.89 104 L242 99.5 L242.48 96.25 L242.87 87 L242.99 78.5 L242.77 76.25 L242.49 74.75 L242 72.75 L240.33 67 L239.71 64.25 L239.42 61.75 L239.42 59 L239.84 51.75 L241.09 39 L242.25 31 L242.75 26.8 L242.88 24 L242.89 18"/>
<path d="M88.22 18 L88.41 26 L89.11 36.75 L89.59 46.5 L89.93 55.75 L90 61.75 L89.71 74.25 L88.36 93.75 L88 104 M168.8 18 L168.84 27 L169.4 42 L169.66 65.5 L170.18 93.5 L170.2 104 M133.8 104 L133.42 95.75 L132.5 85.18 L132.41 78.75 L132.51 60.25 L132.64 52 L133.06 38.25 L133.75 25.33 L133.88 18 M245.7 104 L246.75 99.65 L247.26 96.5 L247.78 88 L247.99 78.5 L247.75 76.26 L247.25 74.02 L245.11 67.25 L244.39 64.5 L244.03 62 L244.03 59 L244.33 54.5 L244.91 49.5 L246.4 38.5 L247.82 30.5 L248.28 27.25 L248.49 24.25 L248.5 18"/>
<path d="M85.3 18 L85.53 26.25 L86.25 34.35 L87 45 L87.39 54.75 L87.5 60.75 L87.23 73.75 L85.75 94.07 L85.4 104 M167.2 18 L167.24 26.75 L167.79 41.75 L168.07 66 L168.67 93.75 L168.69 104 M136.21 104 L135.55 85.5 L135.51 79.25 L136.1 44 L136.64 25.75 L136.77 18 M250 104 L251.03 99.75 L251.55 96.5 L252.12 87 L252.29 78.5 L252.13 76.75 L251.75 74.75 L251 72.04 L249.41 67 L248.78 64.5 L248.41 61.75 L248.44 59 L248.85 54.25 L249.64 49 L251.41 38.75 L253.25 30.74 L253.97 26.75 L254.19 24 L254.19 18"/>
<path d="M82.1 18 L82.3 25.75 L83.25 34.47 L84.06 43.5 L84.7 54 L84.9 60 L84.85 66 L84.61 74.25 L83.18 95.25 L82.89 104 M165.5 18 L165.55 27 L166.09 41.75 L166.38 66.25 L166.98 94.75 L167 104 M139 104 L138.99 95.25 L138.8 82 L139.1 61.75 L139 18 M254 104 L255.14 99.25 L255.59 96.25 L256.14 86.75 L256.29 78.5 L256.1 76.5 L255.63 74.25 L253.41 67 L252.74 64.25 L252.42 61.75 L252.47 58.75 L252.9 54.5 L253.75 49.63 L256 38.5 L258.1 30.5 L258.82 27 L259.11 24 L259.11 18"/>
<path d="M78.4 18 L78.51 23.75 L78.63 25.75 L80 35 L80.75 41.55 L82.01 54 L82.26 57 L82.38 60 L82.32 65 L81.97 72.5 L81.25 83.3 L80.32 94.75 L80 104 M163.79 18 L163.83 27.5 L164.5 52.49 L164.57 58.25 L164.39 104 M141.8 104 L141.85 91.25 L142.4 60.5 L141.61 18 M258.39 104 L259.5 99.5 L259.98 96.25 L260.39 86.75 L260.49 78.5 L260.25 76.31 L259.75 74.11 L257.61 67.5 L256.8 64.5 L256.42 61.75 L256.49 58.75 L256.73 56.5 L257.1 54.25 L258.38 48.75 L261.16 38.25 L263.8 30.5 L264.68 27.25 L265.09 24.25 L265.13 18"/>
<path d="M74.1 18 L74.22 24 L74.48 26.75 L75.88 34.25 L77.75 45.25 L79.01 54.25 L79.26 56.5 L79.48 60 L79.47 63 L79.25 67.75 L78.75 76.1 L77.39 95.25 L77 104 M161.68 18 L162 62.75 L161.75 85 L161.39 104 M144.5 104 L144.63 95.5 L145.16 82.75 L145.5 70.02 L145.58 59.75 L145.5 55.55 L145.25 50 L143.96 27.75 L143.72 18 M262 104 L262.43 102.5 L263.15 99.25 L263.63 96 L264.31 87.25 L264.49 80.75 L264.35 79.5 L264 78.07 L262.24 73 L260.78 65.5 L260.5 63.25 L260.4 61 L260.48 59 L260.75 56.75 L261.25 54.05 L262 50.9 L263.25 46.09 L264 43.75 L267.01 36.25 L269.85 30 L270.16 29.5 L272.5 23.5 L275.01 18"/>
<path d="M69.33 18 L69.5 18.99 L69.59 20.75 L69.75 21.25 L69.81 22.25 L70 22.94 L70.1 24 L70.25 24.36 L70.34 25.25 L70.5 25.64 L70.61 26.5 L70.75 26.74 L71.06 28.5 L71.25 28.97 L71.33 29.75 L71.5 30 L71.55 30.75 L71.75 31.22 L71.83 32 L72 32.25 L72.06 33 L72.25 33.46 L72.33 34.25 L72.5 34.5 L72.55 35.25 L72.75 35.74 L72.79 36.5 L73 37 L73.03 37.75 L73.25 38.48 L73.5 39.98 L75.5 54.23 L75.94 59 L75.98 62.75 L75.75 68.94 L75.45 74.75 L74.14 94 L73.79 104 M158.62 18 L158.61 29.5 L158.25 65.09 L157.55 104 M146.97 104 L147 97 L147.16 94.25 L147.25 90.08 L147.43 88 L147.5 84.68 L147.66 82.75 L147.75 77.95 L147.93 75.5 L148 71.22 L148.18 68 L148.23 61.75 L148 53 L146.75 31.07 L146.66 28 L146.5 26.52 L146.4 18 M272 104 L270.5 100.2 L269.9 98.25 L269.75 98.01 L269.39 96.5 L269.25 96.26 L269.14 95.5 L269 95.25 L268.89 94.25 L268.75 93.98 L268.68 92.75 L268.5 92 L268.41 88 L268.25 86.29 L268.2 82.25 L268.15 81.5 L268 81 L267.94 79.75 L267.75 79.32 L267.7 78.75 L267.5 78.5 L267.46 78 L267.25 77.59 L267.21 77.25 L267 76.9 L266.95 76.5 L266.75 76.25 L266.69 75.75 L266.5 75.51 L266.17 74.25 L266 74.02 L265.95 73.5 L265.75 73.1 L265.66 72.25 L265.5 72 L265.44 70.75 L265.25 70.26 L265.19 69 L265 68.51 L264.93 67 L264.75 66.5 L264.68 64.5 L264.5 63.76 L264.5 59.46 L264.67 59 L264.75 57.95 L264.94 57.5 L265 56.77 L265.19 56.5 L265.25 55.97 L265.46 55.5 L265.5 55.17 L266.14 53.5 L266.25 52.99 L266.43 52.75 L266.5 52.36 L266.91 51.5 L267 51 L267.2 50.75 L267.5 49.74 L267.69 49.5 L268 48.48 L268.16 48.25 L268.25 47.74 L268.43 47.5 L268.5 47 L268.68 46.75 L268.75 46.32 L268.94 46 L270.25 42.24 L270.42 42 L270.75 40.99 L270.92 40.75 L272 38 L272.19 37.75 L273.75 34.31 L276 30 L282 29.89"/>
<path d="M60 37.9 L62 38 L65.5 41.47 L68.5 44.74 L69.25 45.73 L70 47 L70.1 47.5 L70.75 49.17 L70.87 49.75 L71 49.97 L71.06 50.5 L71.25 50.93 L71.36 51.75 L71.5 51.99 L71.57 53 L71.75 53.62 L71.82 55.5 L72 56.44 L72.09 61 L72 72 L71.82 73.75 L71.75 77.26 L71.58 78.25 L71.5 81.01 L71.32 82 L71.25 84.76 L71.05 86.25 L71 88.75 L70.82 89.75 L70.75 92.25 L70.58 93 L70.5 95 L70.34 95.5 L70.25 97 L70.08 97.5 L70 98.64 L69.81 99.25 L69.75 100.08 L69.6 100.5 L69.5 101.5 L69.32 102 L69.25 102.76 L69.07 103.25 L69 104 M152.25 29.51 L152.64 30 L152.75 30.51 L152.94 30.75 L153.85 33.25 L155.75 39.75 L156 41.18 L156.25 44 L156.32 47 L156.25 50.03 L155.25 55 L153.92 58.75 L152.74 61.25 L152.5 61.5 L152.11 61 L151.09 58.75 L150.25 56.29 L149.75 54.27 L149.67 53.25 L149.5 52.57 L149.41 51.25 L149.25 50.57 L149.2 48.75 L149.25 44.15 L149.4 43 L149.5 41 L149.75 39.22 L150.83 34 L151.6 31.25 L151.75 31.01 L151.83 30.5 L152 30.27 L152.04 29.75Z"/>
</g></g>
<clipPath id="cb"><path d="M70 157.9H266.2L270.5 222L270.7 233.6H70Z"/></clipPath>
<g clip-path="url(#cb)">
<path fill="#1a50f0" fill-rule="evenodd" d="M262.25 153 L282 153 L282 239 L264 239 L263.95 211 L263.89 209.5 L263.75 208.55 L263.69 201.5 L263.5 200.02 L263.44 193.25 L263.25 191.75 L263.2 185.25 L263.14 184.5 L263 184.01 L262.95 179.25 L262.89 178.5 L262.75 178.01 L262.7 173.25 L262.5 172.01 L262.44 165.75 L262.25 163.78 L262.25 153Z"/>
<path fill="#3a68f0" fill-rule="evenodd" d="M260 153 L262.25 153 L262.25 163.78 L262.44 165.75 L262.5 172.01 L262.7 173.25 L262.75 178.01 L262.89 178.5 L262.95 179.25 L263 184.01 L263.14 184.5 L263.2 185.25 L263.25 191.75 L263.44 193.25 L263.5 200.02 L263.69 201.5 L263.75 208.55 L263.89 209.5 L263.95 211 L264 239 L261.3 239 L261.28 217.5 L261 196 L260.76 184.75 L259.98 165 L259.9 153Z"/>
<path fill="#5080f0" fill-rule="evenodd" d="M257.75 153 L259.9 153 L259.98 165 L260.76 184.75 L261 196 L261.28 217.5 L261.3 239 L258.8 239 L258.76 214.5 L258.5 190 L257.68 165.25 L257.6 153Z"/>
<path fill="#7090f0" fill-rule="evenodd" d="M255.25 153 L257.6 153 L257.68 165.25 L258.5 190 L258.76 214.5 L258.8 239 L256.2 239 L256.18 218.5 L256.02 200 L255.83 186 L255.25 164.75 L255.2 153Z"/>
<path fill="#90a8f0" fill-rule="evenodd" d="M253 153 L255.2 153 L255.25 164.75 L255.83 186 L256.02 200 L256.18 218.5 L256.2 239 L253.5 239 L253.41 203 L253.28 187.5 L252.93 165 L252.9 153Z"/>
<path fill="#a8bcf4" fill-rule="evenodd" d="M250.5 153 L252.9 153 L252.93 165 L253.28 187.5 L253.41 203 L253.5 239 L250.8 239 L250.81 220 L251 189 L250.55 165 L250.5 153Z"/>
<path fill="#c0d0f8" fill-rule="evenodd" d="M248 153 L250.5 153 L250.55 165 L251 189 L250.81 220 L250.8 239 L248 239 L248.11 189 L247.9 153Z"/>
<path fill="#d8e0f8" fill-rule="evenodd" d="M245.5 153 L247.9 153 L248.11 189 L248 239 L245.19 239 L245.21 220.5 L245.5 190.75 L245.29 153Z"/>
<path fill="#eef1f8" fill-rule="evenodd" d="M147.5 153 L160.14 153 L160.14 158.5 L160 163.3 L158.75 179.54 L158 185.13 L157.25 188.06 L156.23 190.5 L155.7 191.25 L154.75 192.25 L153.25 193.65 L152.25 194.36 L152.01 194.25 L151.57 193.75 L150.37 192 L149.84 191 L149.5 190 L149 187.16 L148.75 184.73 L148.5 179.59 L148.17 168.5 L147.75 163.53 L147.52 158.75 L147.5 153Z M242.25 153 L245.29 153 L245.5 190.75 L245.21 220.5 L245.19 239 L242 239 L242.03 220 L242.5 199.06 L242.59 190.75 L242.52 181 L242.22 163.5 L242.19 153Z M60 180 L60.25 180.06 L62.5 181.59 L64.25 182.92 L65.5 184 L67.73 186.5 L69 188.26 L70.25 190.54 L71 192.24 L71.32 193.25 L71.5 193.52 L71.58 194 L71.75 194.24 L71.84 194.75 L72 194.99 L72.07 195.5 L72.25 195.84 L72.57 197.25 L72.75 197.66 L72.83 198.25 L73 198.59 L73.07 199.25 L73.25 199.64 L73.3 200.25 L73.5 200.73 L73.56 201.5 L73.75 201.97 L73.84 203 L74 203.43 L74.05 204.5 L74.25 205.2 L74.33 206.5 L74.5 206.99 L74.58 208.75 L74.75 209.5 L74.75 213.07 L74.58 214.25 L74.5 216.78 L74.33 217.5 L74.25 219.04 L74.08 219.5 L74 220.31 L73.81 220.75 L73.75 221.36 L73.57 221.75 L73.5 222.3 L73.3 222.75 L73.25 223.26 L73.1 223.5 L73 224.17 L72.83 224.5 L72.5 226.03 L71.83 228 L71.75 228.5 L71.6 228.75 L71.07 230.75 L70.35 235.25 L70.02 239 L60 239 L60 180Z"/>
<path fill="#f7f8ec" fill-rule="evenodd" d="M60.25 153 L75.76 153 L75.75 159.86 L75.57 161.25 L75.5 163.32 L75.32 164.25 L75.25 166.31 L75.07 167.5 L75.08 173.5 L75.25 174.74 L75.32 177.5 L75.5 178.65 L75.59 180.75 L75.83 183.25 L77.25 195.54 L78 203.35 L78.34 207.5 L78.49 210.75 L78.34 220.75 L78 230.37 L77.55 239 L70.02 239 L70.35 235.25 L71.07 230.75 L71.6 228.75 L71.75 228.5 L71.83 228 L72.5 226.03 L72.83 224.5 L73 224.17 L73.1 223.5 L73.25 223.26 L73.3 222.75 L73.5 222.3 L73.57 221.75 L73.75 221.36 L73.81 220.75 L74 220.31 L74.08 219.5 L74.25 219.04 L74.33 217.5 L74.5 216.78 L74.58 214.25 L74.75 213.07 L74.75 209.5 L74.58 208.75 L74.5 206.99 L74.33 206.5 L74.25 205.2 L74.09 204.75 L74 203.43 L73.84 203 L73.75 201.97 L73.56 201.5 L73.5 200.73 L73.3 200.25 L73 198.59 L72.83 198.25 L72.5 196.72 L72.07 195.5 L72 194.99 L71.84 194.75 L71.75 194.24 L71.58 194 L71.5 193.52 L71.32 193.25 L71 192.24 L70 190 L68.48 187.5 L67.5 186.22 L65.75 184.25 L63.25 182.14 L60.25 180.06 L60 180 L60 153Z M143.25 153 L147.5 153 L147.52 158.75 L147.75 163.53 L148.17 168.5 L148.5 179.59 L148.75 184.73 L149 187.16 L149.5 190 L149.84 191 L150.37 192 L151.57 193.75 L152.01 194.25 L152.25 194.36 L153.25 193.65 L154.75 192.25 L155.7 191.25 L156.23 190.5 L157.25 188.06 L158 185.13 L158.75 179.54 L160 163.3 L160.14 158.5 L160.14 153 L164.38 153 L164.37 159 L164.25 163.57 L163.25 178.57 L162.5 188 L161.84 194.75 L161.59 200.75 L161.5 209.25 L161.54 239 L146.95 239 L146.9 232 L146.68 222.25 L146.16 213.75 L146 212.53 L145.66 207.5 L145.5 206.58 L145.41 205 L145.25 204.26 L145.16 202.75 L144.75 199.94 L144.42 196.5 L143.5 190.76 L143.33 188.5 L143.12 153Z M238.75 153 L242.19 153 L242.22 163.5 L242.52 181 L242.59 190.75 L242.5 199.06 L242.03 220 L242 239 L238.69 239 L238.7 221 L239 190 L238.72 163.75 L238.69 153Z"/>
<path fill="#f8f8d2" fill-rule="evenodd" d="M76 153 L81.29 153 L81.25 159.3 L81 161.43 L79.94 167.75 L79.81 169.5 L79.81 171.25 L81.3 199 L82.39 210.5 L83.22 221.75 L83.28 231.25 L83.05 239 L77.55 239 L78 230.37 L78.34 220.75 L78.49 210.75 L78.34 207.5 L78 203.35 L77.25 195.54 L75.83 183.25 L75.59 180.75 L75.5 178.65 L75.32 177.5 L75.25 174.74 L75.08 173.5 L75.07 167.5 L75.25 166.31 L75.32 164.25 L75.5 163.32 L75.57 161.25 L75.75 159.86 L75.76 153Z M140 153 L143.12 153 L143.33 188.5 L143.5 190.76 L144.42 196.5 L144.75 199.94 L145.16 202.75 L145.25 204.26 L145.41 205 L145.5 206.58 L145.66 207.5 L146 212.53 L146.16 213.75 L146.68 222.25 L146.9 232 L146.95 239 L142.1 239 L141.97 223.25 L141.5 212 L140.5 200 L139.56 192.25 L139.31 188.75 L139.4 174.5 L139.76 161.5 L139.8 153Z M164.5 153 L167.19 153 L167.18 160.5 L167 168.47 L166.75 176.54 L166.35 185.25 L166.28 189.25 L166.32 199.75 L166.68 224.5 L166.78 239 L161.54 239 L161.5 209.25 L161.59 200.75 L161.84 194.75 L162.5 188 L163.25 178.57 L164.25 163.57 L164.37 159 L164.38 153Z M234.75 153 L238.69 153 L238.72 163.75 L239 190 L238.7 221 L238.69 239 L234.2 239 L234.22 218.5 L234.61 177.5 L234.69 153Z"/>
<path fill="#f8f7a0" fill-rule="evenodd" d="M81.5 153 L85.41 153 L85.34 159.75 L84.53 166.5 L84.32 169 L84.4 175 L84.99 188.75 L85.36 200 L85.69 203 L86.95 211.5 L87.7 219 L87.99 224 L88 239 L83.05 239 L83.28 231.25 L83.22 221.75 L82.39 210.5 L81.3 199 L79.81 171.25 L79.81 169.5 L79.94 167.75 L81 161.43 L81.25 159.3 L81.29 153Z M136.25 153 L139.8 153 L139.76 161.5 L139.4 174.5 L139.31 188.75 L139.56 192.25 L140.5 200 L141.5 212 L141.97 223.25 L142.1 239 L137.4 239 L137.3 224.75 L137.12 218.75 L136.7 210.25 L135.43 192.25 L135.3 188.75 L135.53 174 L136.16 160.5 L136.2 153Z M167.25 153 L169.6 153 L169.54 161.5 L168.26 186.5 L168.23 192.5 L168.5 200.82 L169.02 210.25 L170 220.28 L170.25 223.66 L170.5 239 L166.78 239 L166.68 224.5 L166.32 199.75 L166.28 189.25 L166.35 185.25 L166.75 176.54 L167 168.47 L167.18 160.5 L167.19 153Z M229.75 153 L234.69 153 L234.61 177.5 L234.22 218.5 L234.2 239 L229.59 239 L229.87 221.75 L230.34 211 L230.98 200.5 L231.3 187 L231.19 182 L230.75 173.94 L230.5 170 L229.62 160.25 L229.51 153Z"/>
<path fill="#f8f05c" fill-rule="evenodd" d="M85.5 153 L90.11 153 L90.04 159.5 L89.65 162.25 L88.75 167 L88.5 169.75 L89.09 188.5 L89.3 199 L89.46 201 L89.74 203 L91.35 211 L92.41 217.75 L92.9 221.5 L93.12 225 L93.21 239 L88 239 L88 224.75 L87.91 221.75 L87.61 218 L86.89 211 L85.69 203 L85.36 200 L84.36 173.75 L84.33 168.75 L85.34 159.75 L85.41 153Z M132.5 153 L136.2 153 L136.16 160.5 L135.53 174 L135.3 188.75 L135.43 192.25 L136.7 210.25 L137.12 218.75 L137.3 224.75 L137.4 239 L132.79 239 L132.72 227 L132.58 221.25 L132 212 L131.08 200.5 L130.68 193 L130.59 189.25 L130.8 183.75 L131.5 175 L132.25 163.46 L132.38 159 L132.38 153Z M169.75 153 L172.2 153 L172.13 162.25 L171.21 184.5 L171.1 191.25 L171.27 198.25 L171.81 210.25 L172.67 223 L172.82 239 L170.5 239 L170.25 223.66 L170 220.28 L169.11 211.5 L168.5 200.75 L168.25 194 L168.25 186.75 L169.52 162 L169.6 153Z M221.5 153 L229.51 153 L229.62 160.25 L230.5 170 L230.75 173.94 L231.19 182 L231.3 187 L230.98 200.5 L230.34 211 L229.87 221.75 L229.59 239 L223.81 239 L224.04 231.75 L224.54 223 L225.1 217.5 L227.34 199 L227.88 191.25 L227.99 186.5 L227.86 184.5 L227.58 182.5 L226.23 175.75 L223.86 167.5 L222.33 162.75 L221.83 160.75 L221.6 159 L221.34 153Z"/>
<path fill="#f9e040" fill-rule="evenodd" d="M90.25 153 L95.84 153 L95.83 158.25 L95.68 160 L95.15 162.5 L94 166.51 L93.5 168.68 L93 172.86 L92.76 176 L92.75 181.05 L93.25 192.75 L93.5 197.57 L93.75 200.32 L93.91 200.75 L94 201.84 L94.17 202.25 L94.25 203.09 L94.43 203.5 L94.5 204.25 L94.66 204.5 L94.75 205.26 L94.91 205.5 L95 206.25 L95.17 206.5 L95.25 207.11 L95.7 208.5 L95.75 209.01 L95.91 209.25 L96 209.98 L96.17 210.25 L96.25 210.89 L96.43 211.25 L96.5 212 L96.66 212.25 L96.75 213 L96.92 213.25 L97.25 214.76 L97.42 215 L97.5 215.53 L98.69 219.25 L98.75 219.76 L98.9 220 L99 220.73 L99.15 221 L99.25 221.77 L99.42 222.25 L99.5 223.09 L99.67 223.75 L100.15 232.75 L100.23 239 L93.21 239 L93.12 225 L92.9 221.5 L92.41 217.75 L91.35 211 L89.74 203 L89.46 201 L89.3 199 L89.09 188.5 L88.5 169.75 L88.75 167 L89.65 162.25 L90.04 159.5 L90.11 153Z M127.5 153 L132.38 153 L132.38 159 L132.25 163.46 L131.5 175 L130.8 183.75 L130.59 189.25 L130.68 193 L131.08 200.5 L132 212 L132.58 221.25 L132.72 227 L132.79 239 L127.49 239 L127.25 223.46 L127.08 221.75 L127 218.95 L126.82 217.75 L126.75 215.48 L126.56 214.25 L126.5 212 L126.31 210.75 L126.25 208.75 L126.09 208 L126 205.91 L125.81 204.75 L125.75 202.86 L125.57 201.75 L125.15 192.5 L125.08 189.25 L125.18 184.5 L125.57 176.75 L127 163.08 L127.25 159.87 L127.28 153Z M172.25 153 L174.8 153 L174.78 160.75 L174.09 183.25 L174.02 192.75 L174.23 199.25 L174.84 210.75 L175.75 220.61 L175.95 223.75 L176.19 239 L172.82 239 L172.67 223 L171.81 210.25 L171.27 198.25 L171.1 191.25 L171.21 184.5 L172.13 162.25 L172.2 153Z M213.25 153 L221.34 153 L221.6 159 L221.88 161 L222.33 162.75 L223.86 167.5 L226.04 175 L227.25 180.69 L227.8 184 L227.99 186.25 L227.98 188.75 L227.46 197.5 L227.13 201 L225.13 217.25 L224.6 222.25 L224.06 231.25 L223.81 239 L218.01 239 L218.01 238.75 L218.35 231.5 L219.11 223 L220.11 217 L221.88 208 L223.25 201.76 L223.75 198.96 L224.56 190.75 L224.7 187.25 L224.6 185.5 L224.27 183.75 L223.61 181.5 L221.66 176 L220.84 174 L217.9 167.75 L214.75 162.5 L214.25 161.5 L213.76 160.25 L213.5 159 L213.09 153Z"/>
<path fill="#f9c232" fill-rule="evenodd" d="M96 153 L108.33 153 L108 155.52 L107.5 158 L107.32 158.5 L106.41 159.75 L103.48 162.75 L101.01 166.75 L100 168.99 L99 173.25 L98.9 174.25 L98.75 174.75 L98.5 178 L98.75 182.83 L99.25 186.78 L100 190.81 L100.75 192.88 L102.25 195.55 L103.76 197.5 L104.75 198.31 L106.75 199.62 L108.26 200.5 L108.75 200.57 L109.25 200.46 L110 200 L111 199.63 L112.5 198.89 L113.75 198.15 L114.52 197.5 L115.72 195.75 L116.51 194.25 L117.25 192.31 L117.75 190.27 L118.5 184.8 L118.75 182 L118.83 178.75 L118.75 173.3 L118.59 171.25 L118.22 160.25 L118.23 153 L127.28 153 L127.25 159.87 L127 163.08 L125.57 176.75 L125.18 184.5 L125.08 189.25 L125.15 192.5 L125.57 201.75 L125.75 202.86 L125.81 204.75 L126 205.91 L126.09 208 L126.25 208.75 L126.31 210.75 L126.5 212 L126.56 214.25 L126.75 215.48 L126.82 217.75 L127 218.95 L127.08 221.75 L127.25 223.46 L127.49 239 L100.23 239 L100.15 232.75 L99.67 223.75 L99.5 223.09 L99.42 222.25 L99.25 221.77 L99.15 221 L99 220.73 L98.9 220 L98.75 219.76 L98.69 219.25 L97.5 215.53 L97.42 215 L97.25 214.76 L96.92 213.25 L96.75 213 L96.66 212.25 L96.5 212 L96.43 211.25 L96.25 210.89 L96.17 210.25 L96 209.98 L95.91 209.25 L95.75 209.01 L95.7 208.5 L95.25 207.11 L95.17 206.5 L95 206.25 L94.91 205.5 L94.75 205.26 L94.66 204.5 L94.5 204.25 L94.43 203.5 L94.25 203.09 L94.17 202.25 L94 201.84 L93.91 200.75 L93.75 200.32 L93.5 197.57 L93.25 192.75 L92.75 181.05 L92.76 176 L93 172.86 L93.5 168.68 L94 166.51 L95.15 162.5 L95.68 160 L95.83 158.25 L95.84 153Z M175 153 L177.6 153 L177.55 162.5 L176.94 186 L176.95 194.25 L177.25 202.94 L177.75 212.2 L178.64 220.5 L178.91 224 L179.17 232.25 L179.23 239 L176.19 239 L175.95 223.75 L175.75 220.61 L174.84 210.75 L174.23 199.25 L174.02 192.75 L174.09 183.25 L174.78 160.75 L174.8 153Z M208.25 153 L213.09 153 L213.5 159 L213.76 160.25 L214.25 161.5 L214.75 162.5 L217.9 167.75 L221.16 174.75 L223.85 182.25 L224.33 184 L224.63 185.75 L224.69 187.75 L224.53 191.25 L223.75 198.96 L223.25 201.76 L221.88 208 L220.11 217 L219.11 223 L218.35 231.5 L218.01 239 L211.02 239 L211.1 236.75 L211.38 233.25 L212.11 227 L212.61 223.5 L213.37 219.75 L216.12 209.5 L219 201.06 L219.76 198.25 L220.5 193.79 L220.98 189.75 L221.09 187.25 L221.01 185.5 L220.75 183.97 L220 181.3 L218 176 L217.25 174.3 L216 172 L212.75 166.58 L210.12 162.75 L209.35 161.5 L208.88 160.5 L208.57 159.5 L208.44 158.5 L208.05 153Z"/>
<path fill="#f8a232" fill-rule="evenodd" d="M108.5 153 L118.23 153 L118.22 160.25 L118.59 171.25 L118.75 173.3 L118.83 177.75 L118.75 182.04 L118.25 186.87 L117.5 191.44 L116.73 193.75 L115.72 195.75 L114.71 197.25 L114.27 197.75 L113.5 198.32 L112 199.15 L110.25 199.96 L110 200 L109.25 200.46 L108.75 200.57 L108.26 200.5 L106.75 199.62 L104.75 198.31 L103.76 197.5 L102.25 195.55 L100.75 192.88 L100 190.81 L99.25 186.78 L98.75 182.83 L98.5 178 L98.75 174.75 L98.9 174.25 L99 173.25 L100 168.99 L101.01 166.75 L103.48 162.75 L106.41 159.75 L107.32 158.5 L107.5 158 L108 155.52 L108.33 153Z M177.75 153 L180.22 153 L180.22 191.5 L180.5 196.88 L181.25 204.53 L182 209.5 L183.25 215.63 L187.38 232.5 L187.87 236 L188.15 239 L179.23 239 L179.17 232.25 L178.91 224 L178.64 220.5 L177.75 212.2 L177.25 202.94 L176.95 194.25 L176.94 186 L177.55 162.5 L177.6 153Z M202.25 153 L208.05 153 L208.44 158.5 L208.57 159.5 L208.88 160.5 L209.35 161.5 L210.12 162.75 L212.75 166.58 L216 172 L217.25 174.3 L218 176 L220 181.3 L220.75 183.97 L221.01 185.5 L221.09 187.25 L220.98 189.75 L220.5 193.79 L219.75 198.3 L218.75 201.83 L216.12 209.5 L213.86 217.75 L212.83 222.25 L212.38 225 L211.59 231.25 L211.13 236.25 L211.02 239 L198.54 239 L198.76 237 L199.49 233.25 L200.15 231.5 L202.49 227 L203.25 225.12 L204 222.17 L205.05 216.75 L205.75 214.17 L206.25 212.9 L206.98 211.5 L210.63 205.75 L213.36 199.75 L214.55 196.5 L215.99 191.5 L216.5 189.25 L216.69 187.5 L216.56 185 L216 182.01 L215.25 179.19 L214.25 176.92 L212 173 L211 171.46 L206.45 165.25 L203.88 162 L202.85 160.25 L202.5 159 L202.06 153Z"/>
<path fill="#f5812b" fill-rule="evenodd" d="M180.25 153 L186 153 L185.95 162.75 L185.66 170.25 L185.41 173.5 L185 176.5 L184.5 182 L184.25 187.25 L184.25 190.8 L184.5 192.17 L185.36 195.25 L185.61 196.5 L185.95 198.25 L186 199.18 L186.15 199.75 L186.25 201.09 L186.4 201.75 L186.75 204.67 L187.25 207.26 L187.75 209.02 L188.75 211.52 L190.29 214.5 L191.63 216.5 L193.5 218.74 L193.75 218.74 L194.5 218.17 L199 214 L202.73 210 L204.5 207.5 L205.25 205.98 L206.08 203.75 L206.25 203.5 L207.06 201 L208.5 197.27 L210.08 192.75 L211.5 189.36 L211.77 188.5 L211.99 187.25 L211.91 185.75 L211.5 183 L211 181.43 L210.02 179.5 L207.5 175.52 L204.08 171.25 L202.85 169.5 L199.51 164.25 L197.9 162 L197.05 160.5 L196.85 160 L196.67 159 L196.51 153 L202.06 153 L202.5 159 L202.66 159.75 L202.96 160.5 L204.06 162.25 L206.26 165 L210.5 170.75 L212.75 174.26 L214 176.44 L215 178.5 L215.5 180 L216.25 183.14 L216.68 186.25 L216.69 187.5 L216.57 188.75 L216 191.48 L214.55 196.5 L213.15 200.25 L210.89 205.25 L209.9 207 L207 211.47 L205.99 213.5 L205.11 216.5 L204.56 219 L204 222.17 L203.25 225.12 L202.49 227 L200.15 231.5 L199.49 233.25 L198.76 237 L198.54 239 L188.15 239 L187.65 234.25 L187.17 231.5 L183.5 216.76 L182 209.53 L181.49 206.5 L180.75 199.73 L180.31 193.75 L180.21 190.75 L180.22 153Z"/>
<path fill="#f04e22" fill-rule="evenodd" d="M186.25 153 L196.51 153 L196.67 159 L196.85 160 L197.05 160.5 L197.9 162 L199.51 164.25 L202.85 169.5 L204.08 171.25 L207.5 175.52 L210 179.47 L210.75 180.88 L211.25 182.09 L211.5 183 L211.91 185.75 L211.96 187.5 L211.5 189.36 L210.08 192.75 L208.5 197.27 L207.06 201 L206.25 203.5 L206.08 203.75 L205.25 205.98 L204.5 207.5 L202.73 210 L199 214 L194.5 218.17 L193.75 218.74 L193.5 218.74 L191.63 216.5 L190.29 214.5 L188.75 211.52 L187.75 209.02 L187.25 207.26 L186.75 204.67 L186.4 201.75 L186.25 201.09 L186.15 199.75 L186 199.18 L185.95 198.25 L185.61 196.5 L185.36 195.25 L184.5 192.17 L184.25 190.8 L184.25 187.25 L184.5 182 L185 176.5 L185.41 173.5 L185.66 170.25 L185.95 162.75 L186 153Z M195.03 175.5 L193.5 176.43 L192.82 177 L192.27 178 L191.75 179.5 L191.5 181 L191.25 185.24 L191.26 190.25 L191.5 193.15 L191.72 194.5 L191.99 195.25 L192.45 196 L193.29 197 L193.75 197.31 L195 197.89 L195.5 198 L196.75 197.92 L198.75 197.43 L200.39 196.5 L201.19 195.75 L201.99 194.75 L203.5 192.55 L204.02 191.5 L204.34 190.25 L204.5 188.25 L204.55 184 L204.25 182.62 L203.5 180.9 L202.5 179.16 L201.47 178 L200 176.89 L198.5 176.14 L196.75 175.56 L195.75 175.39 L195.25 175.46Z"/>
<path fill="#f6d52f" fill-rule="evenodd" d="M195.25 175.46 L195.75 175.39 L196.75 175.56 L198.5 176.14 L200 176.89 L201.47 178 L202.5 179.16 L203.5 180.9 L204.25 182.62 L204.55 184 L204.5 188.25 L204.34 190.25 L204.02 191.5 L203.5 192.55 L201.99 194.75 L201.19 195.75 L200.39 196.5 L198.75 197.43 L196.75 197.92 L195.5 198 L195 197.89 L193.75 197.31 L193.29 197 L192.45 196 L191.99 195.25 L191.72 194.5 L191.5 193.15 L191.26 190.25 L191.25 185.24 L191.5 181 L191.75 179.5 L192.27 178 L192.82 177 L193.5 176.43 L195.03 175.5Z"/>
<g fill="none" stroke="#000" stroke-opacity="0.55" stroke-width="0.95">
<path d="M262.25 153 L262.25 163.78 L262.44 165.75 L262.5 172.01 L262.7 173.25 L262.75 178.01 L262.89 178.5 L262.95 179.25 L263 184.01 L263.14 184.5 L263.2 185.25 L263.25 191.75 L263.44 193.25 L263.5 200.02 L263.69 201.5 L263.75 208.55 L263.89 209.5 L263.95 211 L264 239"/>
<path d="M259.9 153 L259.98 165 L260.76 184.75 L261 196 L261.28 217.5 L261.3 239"/>
<path d="M257.6 153 L257.68 165.25 L258.5 190 L258.76 214.5 L258.8 239"/>
<path d="M255.2 153 L255.25 164.75 L255.83 186 L256.02 200 L256.18 218.5 L256.2 239"/>
<path d="M252.9 153 L252.93 165 L253.28 187.5 L253.41 203 L253.5 239"/>
<path d="M250.5 153 L250.55 165 L251 189 L250.81 220 L250.8 239"/>
<path d="M247.9 153 L248.11 189 L248 239"/>
<path d="M245.29 153 L245.5 190.75 L245.21 220.5 L245.19 239"/>
<path d="M147.5 153 L147.52 158.75 L147.75 163.53 L148.17 168.5 L148.5 179.59 L148.75 184.73 L149 187.16 L149.5 190 L149.84 191 L150.37 192 L151.57 193.75 L152.01 194.25 L152.25 194.36 L153.25 193.65 L154.75 192.25 L155.7 191.25 L156.23 190.5 L157.25 188.06 L158 185.13 L158.75 179.54 L160 163.3 L160.14 158.5 L160.14 153 M242.19 153 L242.22 163.5 L242.52 181 L242.59 190.75 L242.5 199.06 L242.03 220 L242 239 M70.02 239 L70.35 235.25 L71.07 230.75 L71.6 228.75 L71.75 228.5 L71.83 228 L72.5 226.03 L72.83 224.5 L73 224.17 L73.1 223.5 L73.25 223.26 L73.3 222.75 L73.5 222.3 L73.57 221.75 L73.75 221.36 L73.81 220.75 L74 220.31 L74.08 219.5 L74.25 219.04 L74.33 217.5 L74.5 216.78 L74.58 214.25 L74.75 213.07 L74.75 209.5 L74.58 208.75 L74.5 206.99 L74.33 206.5 L74.25 205.2 L74.05 204.5 L74 203.43 L73.84 203 L73.75 201.97 L73.56 201.5 L73.5 200.73 L73.3 200.25 L73.25 199.64 L73.07 199.25 L73 198.59 L72.83 198.25 L72.75 197.66 L72.57 197.25 L72.25 195.84 L72.07 195.5 L72 194.99 L71.84 194.75 L71.75 194.24 L71.58 194 L71.5 193.52 L71.32 193.25 L71 192.24 L70.25 190.54 L69 188.26 L67.73 186.5 L65.5 184 L64.25 182.92 L62.5 181.59 L60.25 180.06 L60 180"/>
<path d="M143.12 153 L143.33 188.5 L143.5 190.76 L144.42 196.5 L144.75 199.94 L145.16 202.75 L145.25 204.26 L145.41 205 L145.5 206.58 L145.66 207.5 L146 212.53 L146.16 213.75 L146.68 222.25 L146.9 232 L146.95 239 M238.69 153 L238.72 163.75 L239 190 L238.7 221 L238.69 239 M77.55 239 L78 230.37 L78.34 220.75 L78.49 210.75 L78.34 207.5 L78 203.35 L77.25 195.54 L75.83 183.25 L75.59 180.75 L75.5 178.65 L75.32 177.5 L75.25 174.74 L75.08 173.5 L75.07 167.5 L75.25 166.31 L75.32 164.25 L75.5 163.32 L75.57 161.25 L75.75 159.86 L75.76 153 M161.54 239 L161.5 209.25 L161.59 200.75 L161.84 194.75 L162.5 188 L163.25 178.57 L164.25 163.57 L164.37 159 L164.38 153"/>
<path d="M139.8 153 L139.76 161.5 L139.4 174.5 L139.31 188.75 L139.56 192.25 L140.5 200 L141.5 212 L141.97 223.25 L142.1 239 M234.69 153 L234.61 177.5 L234.22 218.5 L234.2 239 M83.05 239 L83.28 231.25 L83.22 221.75 L82.39 210.5 L81.3 199 L79.81 171.25 L79.81 169.5 L79.94 167.75 L81 161.43 L81.25 159.3 L81.29 153 M166.78 239 L166.68 224.5 L166.32 199.75 L166.28 189.25 L166.35 185.25 L166.75 176.54 L167 168.47 L167.18 160.5 L167.19 153"/>
<path d="M136.2 153 L136.16 160.5 L135.53 174 L135.3 188.75 L135.43 192.25 L136.7 210.25 L137.12 218.75 L137.3 224.75 L137.4 239 M229.51 153 L229.62 160.25 L230.5 170 L230.75 173.94 L231.19 182 L231.3 187 L230.98 200.5 L230.34 211 L229.87 221.75 L229.59 239 M88 239 L88 224.75 L87.91 221.75 L87.61 218 L86.89 211 L85.69 203 L85.36 200 L84.36 173.75 L84.33 168.75 L85.34 159.75 L85.41 153 M170.5 239 L170.25 223.66 L170 220.28 L169.02 210.25 L168.5 200.82 L168.23 192.5 L168.26 186.5 L169.54 161.5 L169.6 153"/>
<path d="M132.38 153 L132.38 159 L132.25 163.46 L131.5 175 L130.8 183.75 L130.59 189.25 L130.68 193 L131.08 200.5 L132 212 L132.58 221.25 L132.72 227 L132.79 239 M221.34 153 L221.6 159 L221.83 160.75 L222.33 162.75 L223.86 167.5 L226.23 175.75 L227.58 182.5 L227.86 184.5 L227.99 186.5 L227.88 191.25 L227.34 199 L225.1 217.5 L224.54 223 L224.04 231.75 L223.81 239 M93.21 239 L93.12 225 L92.9 221.5 L92.41 217.75 L91.35 211 L89.74 203 L89.46 201 L89.3 199 L89.09 188.5 L88.5 169.75 L88.75 167 L89.65 162.25 L90.04 159.5 L90.11 153 M172.82 239 L172.67 223 L171.81 210.25 L171.27 198.25 L171.1 191.25 L171.21 184.5 L172.13 162.25 L172.2 153"/>
<path d="M127.28 153 L127.25 159.87 L127 163.08 L125.57 176.75 L125.18 184.5 L125.08 189.25 L125.15 192.5 L125.57 201.75 L125.75 202.86 L125.81 204.75 L126 205.91 L126.09 208 L126.25 208.75 L126.31 210.75 L126.5 212 L126.56 214.25 L126.75 215.48 L126.82 217.75 L127 218.95 L127.08 221.75 L127.25 223.46 L127.49 239 M213.09 153 L213.5 159 L213.76 160.25 L214.25 161.5 L214.75 162.5 L217.9 167.75 L221.16 174.75 L223.93 182.5 L224.48 184.75 L224.68 186.5 L224.5 191.68 L223.75 198.96 L223.25 201.76 L221.88 208 L220.11 217 L219.11 223 L218.35 231.5 L218.01 239 M100.23 239 L100.15 232.75 L99.67 223.75 L99.5 223.09 L99.42 222.25 L99.25 221.77 L99.15 221 L99 220.73 L98.9 220 L98.75 219.76 L98.69 219.25 L97.5 215.53 L97.42 215 L97.25 214.76 L96.92 213.25 L96.75 213 L96.66 212.25 L96.5 212 L96.43 211.25 L96.25 210.89 L96.17 210.25 L96 209.98 L95.91 209.25 L95.75 209.01 L95.7 208.5 L95.25 207.11 L95.17 206.5 L95 206.25 L94.91 205.5 L94.75 205.26 L94.66 204.5 L94.5 204.25 L94.43 203.5 L94.25 203.09 L94.17 202.25 L94 201.84 L93.91 200.75 L93.75 200.32 L93.5 197.57 L93.25 192.75 L92.75 181.05 L92.76 176 L93 172.86 L93.5 168.68 L94 166.51 L95.15 162.5 L95.68 160 L95.83 158.25 L95.84 153 M176.19 239 L175.95 223.75 L175.75 220.61 L174.84 210.75 L174.23 199.25 L174.02 192.75 L174.09 183.25 L174.78 160.75 L174.8 153"/>
<path d="M118.23 153 L118.22 160.25 L118.59 171.25 L118.75 173.3 L118.83 178.75 L118.75 182 L118.5 184.8 L117.75 190.27 L117.25 192.31 L116.51 194.25 L115.72 195.75 L114.52 197.5 L113.75 198.15 L112.5 198.89 L111 199.63 L110 200 L109.25 200.46 L108.75 200.57 L108.26 200.5 L106.75 199.62 L104.75 198.31 L103.76 197.5 L102.25 195.55 L100.75 192.88 L100 190.81 L99.25 186.78 L98.75 182.83 L98.5 178 L98.75 174.75 L98.9 174.25 L99 173.25 L100 168.99 L101.01 166.75 L103.48 162.75 L106.41 159.75 L107.32 158.5 L107.5 158 L108 155.52 L108.33 153 M208.05 153 L208.44 158.5 L208.57 159.5 L208.88 160.5 L209.35 161.5 L210.12 162.75 L212.75 166.58 L216 172 L217.5 174.82 L219.26 179.25 L220.25 182.08 L220.76 184 L221.08 186.5 L221 189.5 L220.75 191.98 L219.75 198.3 L218.75 201.83 L216.12 209.5 L213.86 217.75 L212.88 222 L212.38 225 L211.61 231 L211.13 236.25 L211.02 239 M179.23 239 L179.17 232.25 L178.91 224 L178.64 220.5 L177.75 212.2 L177.25 202.94 L176.95 194.25 L176.94 186 L177.55 162.5 L177.6 153"/>
<path d="M202.06 153 L202.5 159 L202.85 160.25 L203.88 162 L206.45 165.25 L211 171.46 L212 173 L214.25 176.92 L215.25 179.19 L216 182.01 L216.56 185 L216.69 187.5 L216.5 189.25 L215.99 191.5 L214.55 196.5 L213.36 199.75 L210.63 205.75 L206.98 211.5 L206.25 212.9 L205.75 214.17 L205.05 216.75 L204 222.17 L203.25 225.12 L202.49 227 L200.15 231.5 L199.49 233.25 L198.76 237 L198.54 239 M188.15 239 L187.65 234.25 L187.17 231.5 L183.5 216.76 L182 209.53 L181.49 206.5 L180.75 199.73 L180.31 193.75 L180.21 190.75 L180.22 153"/>
<path d="M196.51 153 L196.67 159 L196.85 160 L197.05 160.5 L197.9 162 L199.51 164.25 L202.85 169.5 L204.08 171.25 L207.5 175.52 L210.02 179.5 L211 181.43 L211.5 183 L211.91 185.75 L211.99 187.25 L211.77 188.5 L211.5 189.36 L210.08 192.75 L208.5 197.27 L207.06 201 L206.25 203.5 L206.08 203.75 L205.25 205.98 L204.5 207.5 L202.73 210 L199 214 L194.5 218.17 L193.75 218.74 L193.5 218.74 L191.63 216.5 L190.29 214.5 L188.75 211.52 L187.75 209.02 L187.25 207.26 L186.75 204.67 L186.4 201.75 L186.25 201.09 L186.15 199.75 L186 199.18 L185.95 198.25 L185.61 196.5 L185.36 195.25 L184.5 192.17 L184.25 190.8 L184.25 187.25 L184.5 182 L185 176.5 L185.41 173.5 L185.66 170.25 L185.95 162.75 L186 153"/>
<path d="M195.25 175.46 L195.75 175.39 L196.75 175.56 L198.5 176.14 L200 176.89 L201.47 178 L202.5 179.16 L203.5 180.9 L204.25 182.62 L204.55 184 L204.5 188.25 L204.34 190.25 L204.02 191.5 L203.5 192.55 L201.99 194.75 L201.19 195.75 L200.39 196.5 L198.75 197.43 L196.75 197.92 L195.5 198 L195 197.89 L193.75 197.31 L193.29 197 L192.45 196 L191.99 195.25 L191.72 194.5 L191.5 193.15 L191.26 190.25 L191.25 185.24 L191.5 181 L191.75 179.5 L192.27 178 L192.82 177 L193.5 176.43 L195.03 175.5Z"/>
</g></g>
<g fill="#222" stroke="#222" stroke-width="0.42" style="font-family:'Liberation Sans',sans-serif">
<rect x="64.5" y="19" width="212" height="84" fill="none" stroke="#c8c8c8" stroke-width="1"/>
<path d="M70.00 101.2V103 M98.71 19V103 M127.43 19V103 M156.14 19V103 M184.86 19V103 M213.57 19V103 M242.28 19V103 M271.00 101.2V103 M64.5 22.80H276.5 M64.5 35.52H276.5 M64.5 48.24H276.5 M64.5 60.96H276.5 M64.5 73.68H276.5 M64.5 86.40H276.5 M64.5 99.12H276.5" stroke="#808080" stroke-opacity="0.35" stroke-width="0.6" fill="none"/>
<text x="62" y="26.60" text-anchor="end" font-size="10.6" textLength="14.6" lengthAdjust="spacingAndGlyphs">260</text>
<text x="62" y="52.04" text-anchor="end" font-size="10.6" textLength="14.6" lengthAdjust="spacingAndGlyphs">240</text>
<text x="62" y="77.48" text-anchor="end" font-size="10.6" textLength="14.6" lengthAdjust="spacingAndGlyphs">220</text>
<text x="62" y="102.92" text-anchor="end" font-size="10.6" textLength="14.6" lengthAdjust="spacingAndGlyphs">200</text>
<text x="62.80" y="116.4" font-size="10.6" textLength="14.4" lengthAdjust="spacingAndGlyphs">NN1</text>
<text x="91.01" y="116.4" font-size="10.6" textLength="15.4" lengthAdjust="spacingAndGlyphs">NN2</text>
<text x="119.73" y="116.4" font-size="10.6" textLength="15.4" lengthAdjust="spacingAndGlyphs">NN3</text>
<text x="148.44" y="116.4" font-size="10.6" textLength="15.4" lengthAdjust="spacingAndGlyphs">NN4</text>
<text x="175.46" y="116.4" font-size="10.6" textLength="18.8" lengthAdjust="spacingAndGlyphs">PHI 1</text>
<text x="203.82" y="116.4" font-size="10.6" textLength="19.5" lengthAdjust="spacingAndGlyphs">Pro 1</text>
<text x="232.53" y="116.4" font-size="10.6" textLength="19.5" lengthAdjust="spacingAndGlyphs">PHI 2</text>
<text x="260.25" y="116.4" font-size="10.6" textLength="21.5" lengthAdjust="spacingAndGlyphs">Pro 2</text>
<text x="154.6" y="131.2" font-size="12" textLength="27.8" lengthAdjust="spacingAndGlyphs">model</text>
<text x="4.1" y="57.3" font-size="11.2" textLength="32.8" lengthAdjust="spacingAndGlyphs">sample</text>
<text x="19.6" y="71.3" font-size="11.2" textLength="17.3" lengthAdjust="spacingAndGlyphs">size</text>
<text x="64.5" y="12.7" font-size="12" textLength="50.2" lengthAdjust="spacingAndGlyphs">Sensitivity</text>
<text x="267.6" y="12.6" font-size="15" stroke="none" fill="#222">a</text>
<rect x="64.5" y="154" width="212" height="84" fill="none" stroke="#c8c8c8" stroke-width="1"/>
<path d="M70.00 236.2V238 M98.71 154V238 M127.43 154V238 M156.14 154V238 M184.86 154V238 M213.57 154V238 M242.28 154V238 M271.00 236.2V238 M64.5 157.80H276.5 M64.5 170.52H276.5 M64.5 183.24H276.5 M64.5 195.96H276.5 M64.5 208.68H276.5 M64.5 221.40H276.5 M64.5 234.12H276.5" stroke="#808080" stroke-opacity="0.35" stroke-width="0.6" fill="none"/>
<text x="62" y="161.60" text-anchor="end" font-size="10.6" textLength="14.6" lengthAdjust="spacingAndGlyphs">260</text>
<text x="62" y="187.04" text-anchor="end" font-size="10.6" textLength="14.6" lengthAdjust="spacingAndGlyphs">240</text>
<text x="62" y="212.48" text-anchor="end" font-size="10.6" textLength="14.6" lengthAdjust="spacingAndGlyphs">220</text>
<text x="62" y="237.92" text-anchor="end" font-size="10.6" textLength="14.6" lengthAdjust="spacingAndGlyphs">200</text>
<text x="62.80" y="251.4" font-size="10.6" textLength="14.4" lengthAdjust="spacingAndGlyphs">NN1</text>
<text x="91.01" y="251.4" font-size="10.6" textLength="15.4" lengthAdjust="spacingAndGlyphs">NN2</text>
<text x="119.73" y="251.4" font-size="10.6" textLength="15.4" lengthAdjust="spacingAndGlyphs">NN3</text>
<text x="148.44" y="251.4" font-size="10.6" textLength="15.4" lengthAdjust="spacingAndGlyphs">NN4</text>
<text x="175.46" y="251.4" font-size="10.6" textLength="18.8" lengthAdjust="spacingAndGlyphs">PHI 1</text>
<text x="203.82" y="251.4" font-size="10.6" textLength="19.5" lengthAdjust="spacingAndGlyphs">Pro 1</text>
<text x="232.53" y="251.4" font-size="10.6" textLength="19.5" lengthAdjust="spacingAndGlyphs">PHI 2</text>
<text x="260.25" y="251.4" font-size="10.6" textLength="21.5" lengthAdjust="spacingAndGlyphs">Pro 2</text>
<text x="154.6" y="271.2" font-size="12" textLength="27.8" lengthAdjust="spacingAndGlyphs">model</text>
<text x="4.1" y="196.39999999999998" font-size="11.2" textLength="32.8" lengthAdjust="spacingAndGlyphs">sample</text>
<text x="19.6" y="210.39999999999998" font-size="11.2" textLength="17.3" lengthAdjust="spacingAndGlyphs">size</text>
<text x="64.5" y="147.7" font-size="12" textLength="50.2" lengthAdjust="spacingAndGlyphs">Specificity</text>
<text x="267.6" y="149.3955" font-size="15" stroke="none" fill="#222">b</text>
<text x="313" y="28.70" font-size="11.5" textLength="198.6" lengthAdjust="spacingAndGlyphs">NN 1: total/free/p2 PSA, CTSD, THBS1 - no GS</text>
<text x="313" y="43.30" font-size="11.5" textLength="209.4" lengthAdjust="spacingAndGlyphs">NN 2: total/free/p2 PSA, CTSD, THBS1 - with GS</text>
<text x="313" y="57.90" font-size="11.5" textLength="223.0" lengthAdjust="spacingAndGlyphs">NN 3: total/free/p2 PSA, CTSD, THBS1, AGE - no GS</text>
<text x="313" y="72.50" font-size="11.5" textLength="232.6" lengthAdjust="spacingAndGlyphs">NN 4: total/free/p2 PSA, CTSD, THBS1, AGE - with GS</text>
<text x="313" y="87.10" font-size="11.5" textLength="108.7" lengthAdjust="spacingAndGlyphs">PHI 1: PHI model with GS</text>
<text x="313" y="101.70" font-size="11.5" textLength="140.6" lengthAdjust="spacingAndGlyphs">PRO 1: Proclarix model with GS</text>
<text x="313" y="116.30" font-size="11.5" textLength="101.6" lengthAdjust="spacingAndGlyphs">PHI 2: PHI model no GS</text>
<text x="313" y="130.90" font-size="11.5" textLength="133.8" lengthAdjust="spacingAndGlyphs">PRO 2: Proclarix model no GS</text>
<rect x="316.4" y="160.90" width="5.2" height="2.53" fill="#e8141c" stroke="none"/>
<rect x="316.4" y="163.38" width="5.2" height="2.53" fill="#ec2c1f" stroke="none"/>
<rect x="316.4" y="165.86" width="5.2" height="2.53" fill="#f04622" stroke="none"/>
<rect x="316.4" y="168.33" width="5.2" height="2.53" fill="#f36026" stroke="none"/>
<rect x="316.4" y="170.81" width="5.2" height="2.53" fill="#f57a2a" stroke="none"/>
<rect x="316.4" y="173.29" width="5.2" height="2.53" fill="#f7922e" stroke="none"/>
<rect x="316.4" y="175.77" width="5.2" height="2.53" fill="#f8a832" stroke="none"/>
<rect x="316.4" y="178.24" width="5.2" height="2.53" fill="#f9bc34" stroke="none"/>
<rect x="316.4" y="180.72" width="5.2" height="2.53" fill="#f9ce38" stroke="none"/>
<rect x="316.4" y="183.20" width="5.2" height="2.53" fill="#f9de3e" stroke="none"/>
<rect x="316.4" y="185.68" width="5.2" height="2.53" fill="#f8ea4c" stroke="none"/>
<rect x="316.4" y="188.16" width="5.2" height="2.53" fill="#f8f068" stroke="none"/>
<rect x="316.4" y="190.63" width="5.2" height="2.53" fill="#f8f48c" stroke="none"/>
<rect x="316.4" y="193.11" width="5.2" height="2.53" fill="#f8f6b0" stroke="none"/>
<rect x="316.4" y="195.59" width="5.2" height="2.53" fill="#f8f7ce" stroke="none"/>
<rect x="316.4" y="198.07" width="5.2" height="2.53" fill="#f7f7e4" stroke="none"/>
<rect x="316.4" y="200.54" width="5.2" height="2.53" fill="#f5f5f2" stroke="none"/>
<rect x="316.4" y="203.02" width="5.2" height="2.53" fill="#e9ecf8" stroke="none"/>
<rect x="316.4" y="205.50" width="5.2" height="2.53" fill="#dbe2f8" stroke="none"/>
<rect x="316.4" y="207.98" width="5.2" height="2.53" fill="#cad6f7" stroke="none"/>
<rect x="316.4" y="210.46" width="5.2" height="2.53" fill="#b6c8f6" stroke="none"/>
<rect x="316.4" y="212.93" width="5.2" height="2.53" fill="#9fb6f5" stroke="none"/>
<rect x="316.4" y="215.41" width="5.2" height="2.53" fill="#86a3f3" stroke="none"/>
<rect x="316.4" y="217.89" width="5.2" height="2.53" fill="#6c90f2" stroke="none"/>
<rect x="316.4" y="220.37" width="5.2" height="2.53" fill="#527cf1" stroke="none"/>
<rect x="316.4" y="222.84" width="5.2" height="2.53" fill="#3868f0" stroke="none"/>
<rect x="316.4" y="225.32" width="5.2" height="2.53" fill="#1e52ef" stroke="none"/>
<text x="327.7" y="167.8" font-size="11.4" textLength="23.3" lengthAdjust="spacingAndGlyphs">0.787</text>
<text x="327.7" y="229.6" font-size="11.4" textLength="23.3" lengthAdjust="spacingAndGlyphs">0.575</text>
<text x="316.8" y="248.9" font-size="11.4" textLength="48.3" lengthAdjust="spacingAndGlyphs">Sensitivity</text>
<rect x="387.0" y="160.90" width="5.2" height="2.53" fill="#e8141c" stroke="none"/>
<rect x="387.0" y="163.38" width="5.2" height="2.53" fill="#ec2c1f" stroke="none"/>
<rect x="387.0" y="165.86" width="5.2" height="2.53" fill="#f04622" stroke="none"/>
<rect x="387.0" y="168.33" width="5.2" height="2.53" fill="#f36026" stroke="none"/>
<rect x="387.0" y="170.81" width="5.2" height="2.53" fill="#f57a2a" stroke="none"/>
<rect x="387.0" y="173.29" width="5.2" height="2.53" fill="#f7922e" stroke="none"/>
<rect x="387.0" y="175.77" width="5.2" height="2.53" fill="#f8a832" stroke="none"/>
<rect x="387.0" y="178.24" width="5.2" height="2.53" fill="#f9bc34" stroke="none"/>
<rect x="387.0" y="180.72" width="5.2" height="2.53" fill="#f9ce38" stroke="none"/>
<rect x="387.0" y="183.20" width="5.2" height="2.53" fill="#f9de3e" stroke="none"/>
<rect x="387.0" y="185.68" width="5.2" height="2.53" fill="#f8ea4c" stroke="none"/>
<rect x="387.0" y="188.16" width="5.2" height="2.53" fill="#f8f068" stroke="none"/>
<rect x="387.0" y="190.63" width="5.2" height="2.53" fill="#f8f48c" stroke="none"/>
<rect x="387.0" y="193.11" width="5.2" height="2.53" fill="#f8f6b0" stroke="none"/>
<rect x="387.0" y="195.59" width="5.2" height="2.53" fill="#f8f7ce" stroke="none"/>
<rect x="387.0" y="198.07" width="5.2" height="2.53" fill="#f7f7e4" stroke="none"/>
<rect x="387.0" y="200.54" width="5.2" height="2.53" fill="#f5f5f2" stroke="none"/>
<rect x="387.0" y="203.02" width="5.2" height="2.53" fill="#e9ecf8" stroke="none"/>
<rect x="387.0" y="205.50" width="5.2" height="2.53" fill="#dbe2f8" stroke="none"/>
<rect x="387.0" y="207.98" width="5.2" height="2.53" fill="#cad6f7" stroke="none"/>
<rect x="387.0" y="210.46" width="5.2" height="2.53" fill="#b6c8f6" stroke="none"/>
<rect x="387.0" y="212.93" width="5.2" height="2.53" fill="#9fb6f5" stroke="none"/>
<rect x="387.0" y="215.41" width="5.2" height="2.53" fill="#86a3f3" stroke="none"/>
<rect x="387.0" y="217.89" width="5.2" height="2.53" fill="#6c90f2" stroke="none"/>
<rect x="387.0" y="220.37" width="5.2" height="2.53" fill="#527cf1" stroke="none"/>
<rect x="387.0" y="222.84" width="5.2" height="2.53" fill="#3868f0" stroke="none"/>
<rect x="387.0" y="225.32" width="5.2" height="2.53" fill="#1e52ef" stroke="none"/>
<text x="398.3" y="167.8" font-size="11.4" textLength="23.3" lengthAdjust="spacingAndGlyphs">0.729</text>
<text x="398.3" y="229.6" font-size="11.4" textLength="23.3" lengthAdjust="spacingAndGlyphs">0.483</text>
<text x="387.4" y="248.9" font-size="11.4" textLength="47.6" lengthAdjust="spacingAndGlyphs">Specificity</text>
</g></svg>
</body></html>
